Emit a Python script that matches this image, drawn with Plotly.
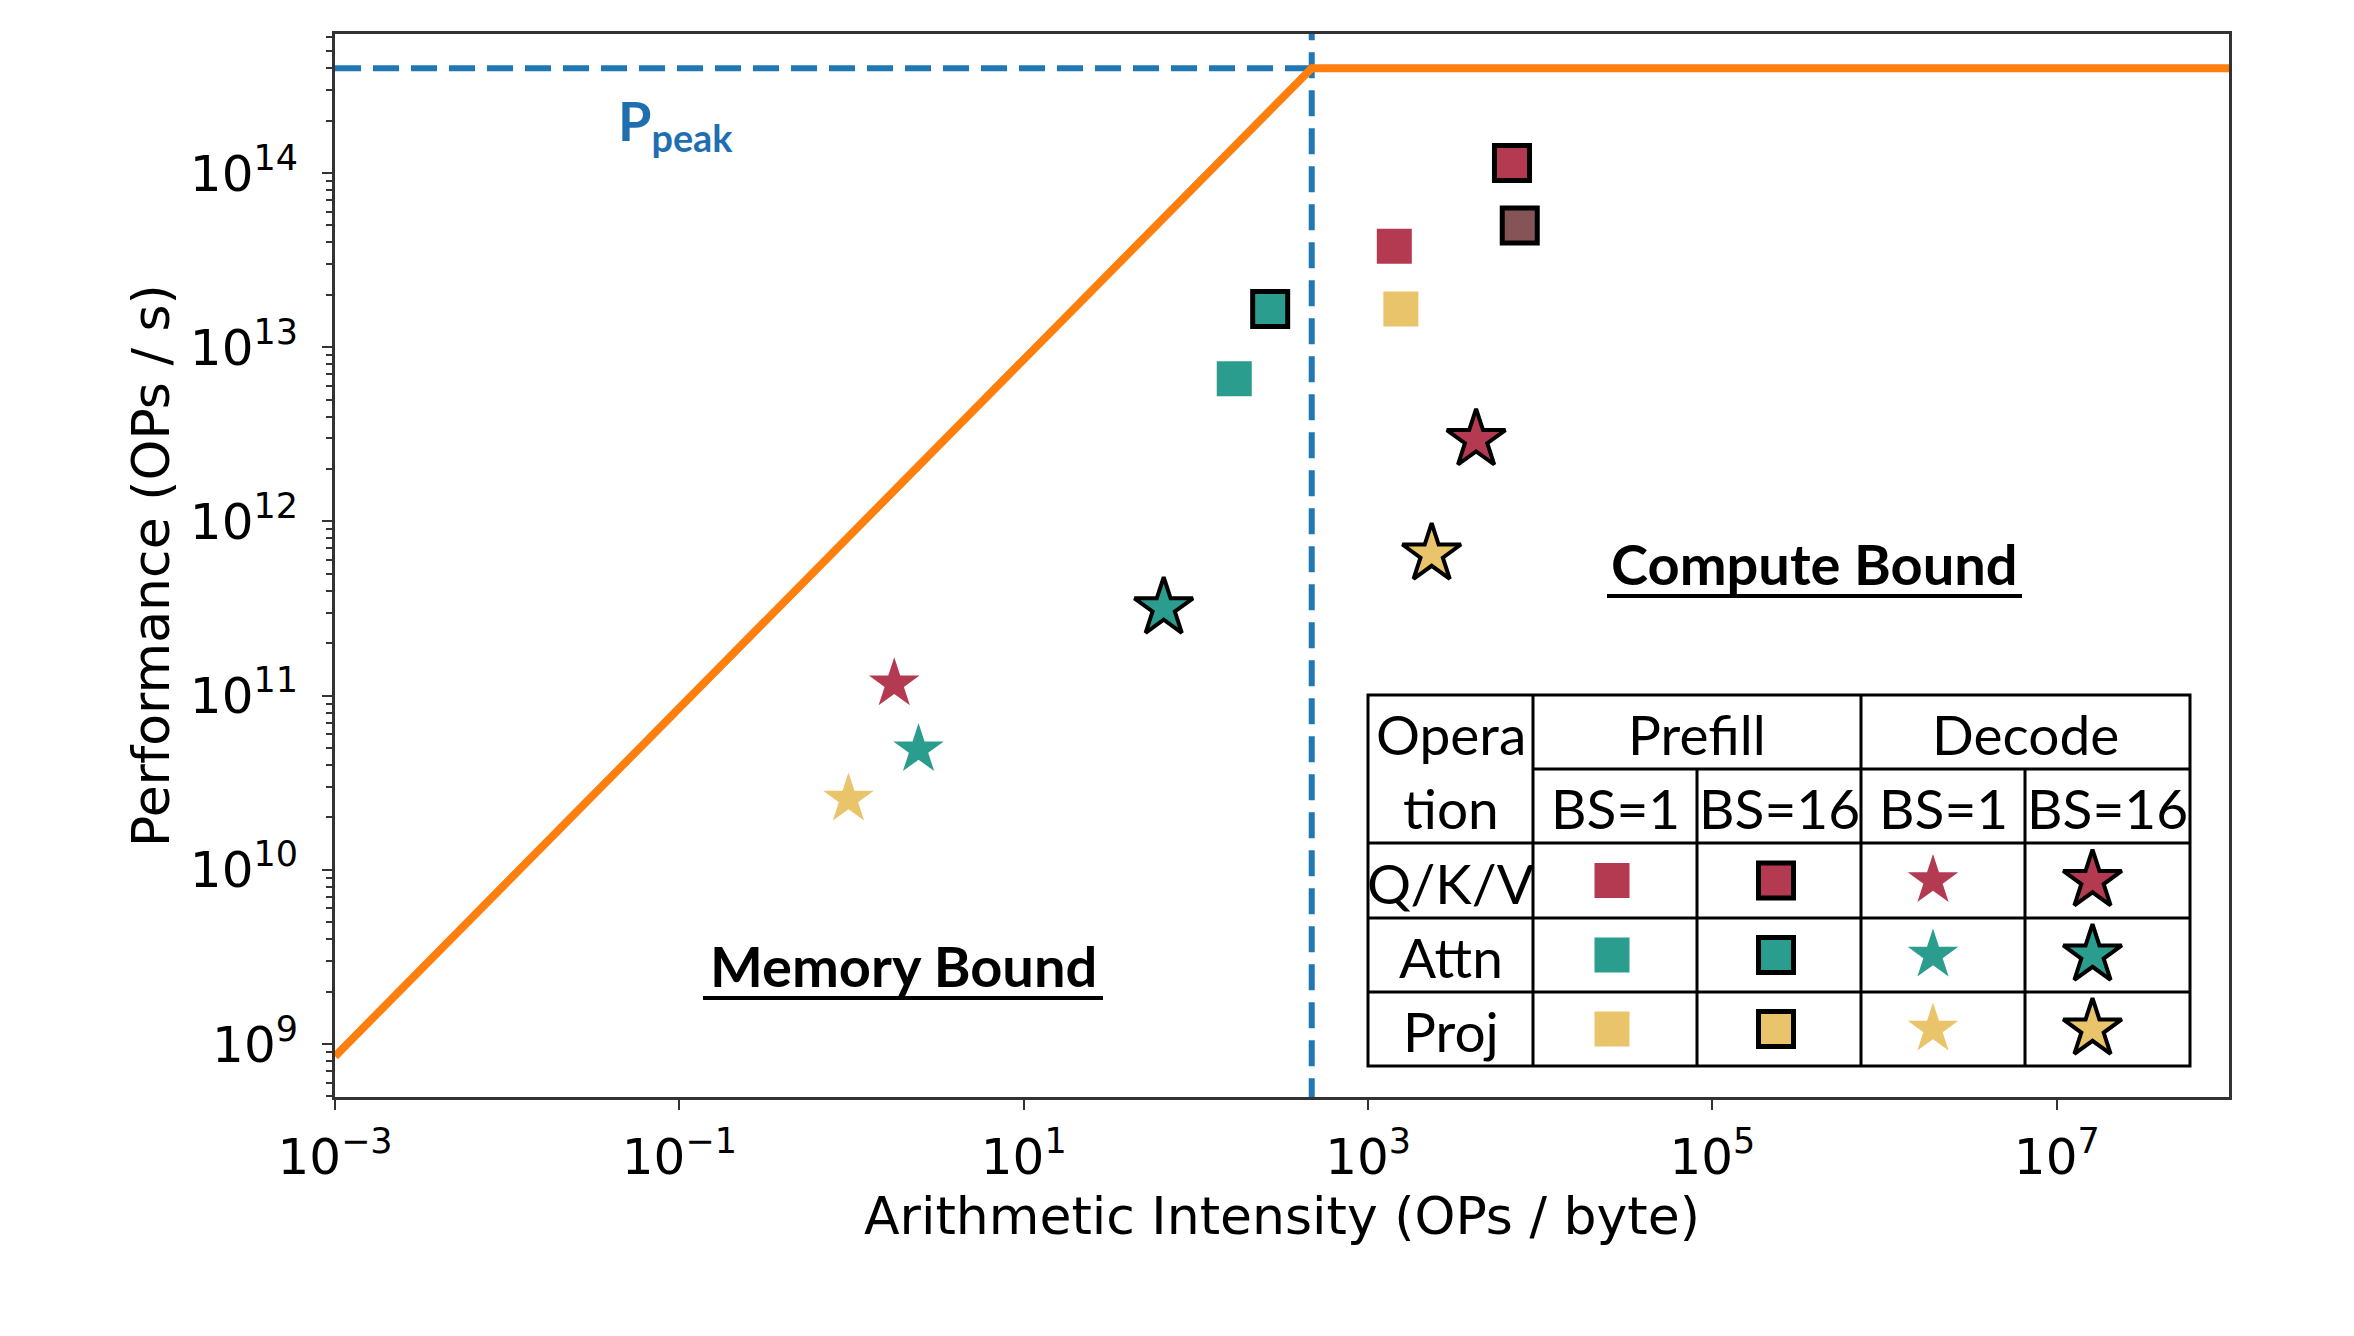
import plotly.graph_objects as go

# ---------------- data ----------------
PEAK = 4.0e14          # peak performance (OPs/s)
BANDWIDTH = 8.5e11     # memory bandwidth (bytes/s)
AI_MIN, AI_MAX = 1e-3, 1e8

operations = ["Q/K/V", "Attn", "Proj"]
op_colors = ["#b33a50", "#2a9d8f", "#e9c46a"]

prefill_bs1_ai = [1420, 167, 1550]
prefill_bs1_perf = [3.8e13, 6.6e12, 1.66e13]
prefill_bs1_colors = ["#b33a50", "#2a9d8f", "#e9c46a"]

prefill_bs16_ai = [6850, 270, 7600]
prefill_bs16_perf = [1.14e14, 1.66e13, 5.0e13]
prefill_bs16_colors = ["#b33a50", "#2a9d8f", "#855457"]

decode_bs1_ai = [1.77, 2.45, 0.96]
decode_bs1_perf = [1.17e11, 4.9e10, 2.55e10]
decode_bs1_colors = ["#b33a50", "#2a9d8f", "#e9c46a"]

decode_bs16_ai = [4240, 65, 2340]
decode_bs16_perf = [2.95e12, 3.19e11, 6.5e11]
decode_bs16_colors = ["#b33a50", "#2a9d8f", "#e9c46a"]

x_tickvals = [1e-3, 1e-1, 1e1, 1e3, 1e5, 1e7]
x_ticktext = ["10<sup>−3</sup>", "10<sup>−1</sup>", "10<sup>1</sup>",
              "10<sup>3</sup>", "10<sup>5</sup>", "10<sup>7</sup>"]
y_tickvals = [1e9, 1e10, 1e11, 1e12, 1e13, 1e14]
y_ticktext = ["10<sup>9</sup>", "10<sup>10</sup>", "10<sup>11</sup>",
              "10<sup>12</sup>", "10<sup>13</sup>", "10<sup>14</sup>"]
y_minor = [m * 10 ** k for k in range(8, 15) for m in range(2, 10)]

# table (legend) layout, in figure pixels
table_cols = [1368, 1533, 1697, 1861, 2025, 2190]
table_rows = [695, 769, 843, 918, 992, 1066]
marker_col_offsets = [-3, -3, -10, -15]
col_headers = ["BS=1", "BS=16", "BS=1", "BS=16"]

# ---------------- styles ----------------
TICK_FONT = dict(family="DejaVu Sans", size=50, color="black")
TITLE_FONT = dict(family="DejaVu Sans", size=52, color="black")
CAL = "Lato, Open Sans, sans-serif"
SQ = 35
STAR1 = 38
STAR16 = 44

styles = {
    "p1": dict(symbol="square", size=SQ, line=dict(width=0)),
    "p16": dict(symbol="square", size=SQ, line=dict(width=5, color="black")),
    "d1": dict(symbol="star", size=STAR1, line=dict(width=0)),
    "d16": dict(symbol="star", size=STAR16, line=dict(width=4, color="black")),
}

fig = go.Figure()

ridge = PEAK / BANDWIDTH
# dashed guide lines
fig.add_trace(go.Scatter(x=[AI_MIN, ridge], y=[PEAK, PEAK], mode="lines",
                         line=dict(color="#1f77b4", width=6, dash="26px,12px"),
                         hoverinfo="skip"))
fig.add_trace(go.Scatter(x=[ridge, ridge], y=[1e8, 1e15], mode="lines",
                         line=dict(color="#1f77b4", width=6, dash="26px,12px"),
                         hoverinfo="skip"))
# roofline
fig.add_trace(go.Scatter(x=[AI_MIN, ridge, AI_MAX],
                         y=[BANDWIDTH * AI_MIN, PEAK, PEAK], mode="lines",
                         line=dict(color="#ff7f0e", width=8), hoverinfo="skip"))

series = [
    ("p1", prefill_bs1_ai, prefill_bs1_perf, prefill_bs1_colors),
    ("p16", prefill_bs16_ai, prefill_bs16_perf, prefill_bs16_colors),
    ("d1", decode_bs1_ai, decode_bs1_perf, decode_bs1_colors),
    ("d16", decode_bs16_ai, decode_bs16_perf, decode_bs16_colors),
]
for key, xs, ys, cols in series:
    st = dict(styles[key])
    fig.add_trace(go.Scatter(x=xs, y=ys, mode="markers",
                             marker=dict(color=cols, **st), text=operations,
                             hoverinfo="x+y+text"))

# ---- table legend (on pixel overlay axes) ----
shapes = []
L, R = table_cols[0], table_cols[-1]
T, B = table_rows[0], table_rows[-1]
tl = dict(color="black", width=3)
shapes.append(dict(type="rect", xref="x2", yref="y2", x0=L, x1=R, y0=T, y1=B,
                   line=tl, layer="above"))
for c in [table_cols[1], table_cols[3]]:
    shapes.append(dict(type="line", xref="x2", yref="y2", x0=c, x1=c, y0=T, y1=B,
                       line=tl, layer="above"))
for c in [table_cols[2], table_cols[4]]:
    shapes.append(dict(type="line", xref="x2", yref="y2", x0=c, x1=c,
                       y0=table_rows[1], y1=B, line=tl, layer="above"))
shapes.append(dict(type="line", xref="x2", yref="y2", x0=table_cols[1], x1=R,
                   y0=table_rows[1], y1=table_rows[1], line=tl, layer="above"))
for r in table_rows[2:5]:
    shapes.append(dict(type="line", xref="x2", yref="y2", x0=L, x1=R, y0=r, y1=r,
                       line=tl, layer="above"))

# underlines of region labels
shapes.append(dict(type="line", xref="x2", yref="y2", x0=1607, x1=2022, y0=596, y1=596,
                   line=dict(color="black", width=4)))
shapes.append(dict(type="line", xref="x2", yref="y2", x0=703, x1=1103, y0=998, y1=998,
                   line=dict(color="black", width=4)))

ann = []
def cx(i, j=None):
    j = i if j is None else j
    return (table_cols[i] + table_cols[j + 1]) / 2
def cy(i):
    return (table_rows[i] + table_rows[i + 1]) / 2

TF = dict(family=CAL, size=55, color="black")
ann.append(dict(x=cx(0), y=cy(0) + 2, text="Opera", font=TF))
ann.append(dict(x=cx(0), y=cy(1) + 2, text="tion", font=TF))
ann.append(dict(x=cx(1, 2), y=cy(0) + 2, text="Prefill", font=TF))
ann.append(dict(x=cx(3, 4), y=cy(0) + 2, text="Decode", font=TF))
for k, h in enumerate(col_headers):
    ann.append(dict(x=cx(k + 1), y=cy(1) + 2, text=h, font=TF))
for r, op in enumerate(operations):
    ann.append(dict(x=cx(0), y=cy(r + 2) + 2, text=op, font=TF))

for k, key in enumerate(["p1", "p16", "d1", "d16"]):
    xs = [cx(k + 1) + marker_col_offsets[k]] * 3
    ys = [cy(r + 2) for r in range(3)]
    fig.add_trace(go.Scatter(x=xs, y=ys, mode="markers", xaxis="x2", yaxis="y2",
                             marker=dict(color=op_colors, **styles[key]),
                             hoverinfo="skip"))

ann.append(dict(x=1814, y=563, text="<b>Compute Bound</b>",
                font=dict(family=CAL, size=56, color="black")))
ann.append(dict(x=903, y=965, text="<b>Memory Bound</b>",
                font=dict(family=CAL, size=56, color="black")))
ann.append(dict(x=616, y=124, xanchor="left", text="<b>P<sub>peak</sub></b>",
                font=dict(family=CAL, size=54, color="#1f6fb0")))

for a in ann:
    a.setdefault("xanchor", "center")
    a.update(xref="x2", yref="y2", showarrow=False, yanchor="middle")

fig.update_layout(
    width=2354, height=1336,
    margin=dict(l=327, r=133, t=26, b=247),
    plot_bgcolor="white", paper_bgcolor="white",
    showlegend=False,
    shapes=shapes, annotations=ann,
    xaxis=dict(type="log", range=[-3, 8], tickvals=x_tickvals, ticktext=x_ticktext,
               ticks="outside", ticklen=10, tickwidth=2, tickcolor="#333",
               ticklabelstandoff=4,
               showline=True, linewidth=3, linecolor="#333", mirror=True,
               showgrid=False, zeroline=False, tickfont=TICK_FONT,
               title=dict(text="Arithmetic Intensity (OPs / byte)", font=TITLE_FONT,
                          standoff=7)),
    yaxis=dict(type="log", range=[8.696, 14.798], tickvals=y_tickvals,
               ticktext=y_ticktext, ticks="outside", ticklen=10, tickwidth=2,
               tickcolor="#333", ticklabelstandoff=14,
               minor=dict(tickvals=y_minor, ticks="outside", ticklen=6, tickwidth=2,
                          tickcolor="#333"),
               showline=True, linewidth=3, linecolor="#333", mirror=True,
               showgrid=False, zeroline=False, tickfont=TICK_FONT,
               title=dict(text="Performance (OPs / s)", font=TITLE_FONT, standoff=4)),
    xaxis2=dict(overlaying="x", anchor="y2", range=[335, 2229], visible=False,
                showgrid=False, zeroline=False),
    yaxis2=dict(overlaying="y", anchor="x2", range=[1097, 34], visible=False,
                showgrid=False, zeroline=False),
)

fig.write_html("out.html")
